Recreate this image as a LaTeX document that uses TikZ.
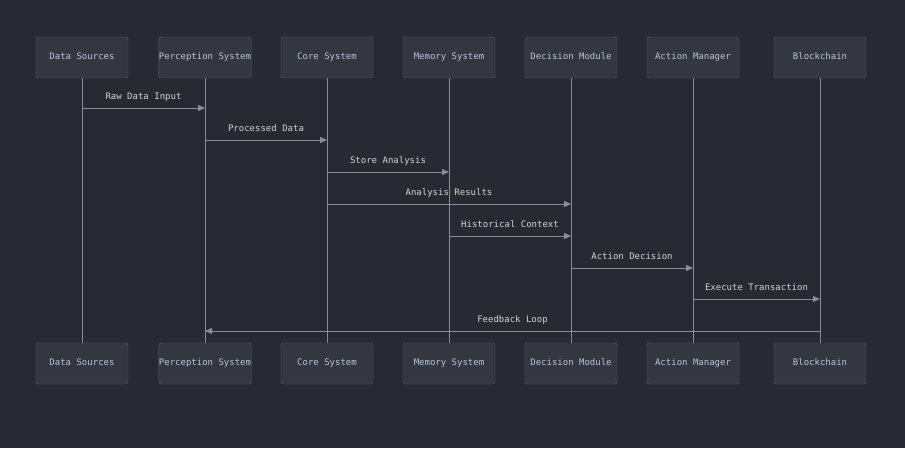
\documentclass[tikz,border=0pt]{standalone}
\usepackage{fontspec}
\setmonofont{DejaVu Sans Mono}
\usetikzlibrary{arrows.meta}
\definecolor{bg}{HTML}{282A33}
\definecolor{boxf}{HTML}{343640}
\definecolor{boxd}{HTML}{5A5D6A}
\definecolor{ln}{HTML}{8A8D99}
\definecolor{nt}{HTML}{B4C6E2}
\definecolor{mt}{HTML}{D2D3CC}
\begin{document}
\begin{tikzpicture}[x=1pt,y=-1pt,
  part/.style={draw=boxd,fill=boxf,rounded corners=2pt,minimum width=92pt,minimum height=41pt,inner sep=0pt,text height=6.5pt,text depth=2pt,font=\ttfamily\fontsize{9}{10}\selectfont,text=nt},
  msg/.style={draw=ln,line width=0.8pt,-{Triangle[length=7pt,width=6pt]}},
  lab/.style={font=\ttfamily\fontsize{9}{10}\selectfont,text=mt,text height=6.5pt,text depth=2pt,above=3pt,midway}]
\fill[bg] (0,0) rectangle (905,448);
\useasboundingbox (0,0) rectangle (905,448);
\foreach \n/\x/\t in {a/82/Data Sources,b/205/Perception System,c/327/Core System,d/449/Memory System,e/571/Decision Module,f/693/Action Manager,g/820/Blockchain}{
  \draw[ln,line width=0.8pt] (\x,78) -- (\x,343);
  \node[part] (\n t) at (\x,57.5) {\t};
  \node[part] (\n b) at (\x,363.5) {\t};
  \coordinate (\n) at (\x,0);
}
\draw[msg] (a|-0,108) -- (b|-0,108) node[lab]{Raw Data Input};
\draw[msg] (b|-0,140) -- (c|-0,140) node[lab]{Processed Data};
\draw[msg] (c|-0,172) -- (d|-0,172) node[lab]{Store Analysis};
\draw[msg] (c|-0,204) -- (e|-0,204) node[lab]{Analysis Results};
\draw[msg] (d|-0,236) -- (e|-0,236) node[lab]{Historical Context};
\draw[msg] (e|-0,268) -- (f|-0,268) node[lab]{Action Decision};
\draw[msg] (f|-0,299) -- (g|-0,299) node[lab]{Execute Transaction};
\draw[msg] (g|-0,331) -- (b|-0,331) node[lab]{Feedback Loop};
\end{tikzpicture}
\end{document}
